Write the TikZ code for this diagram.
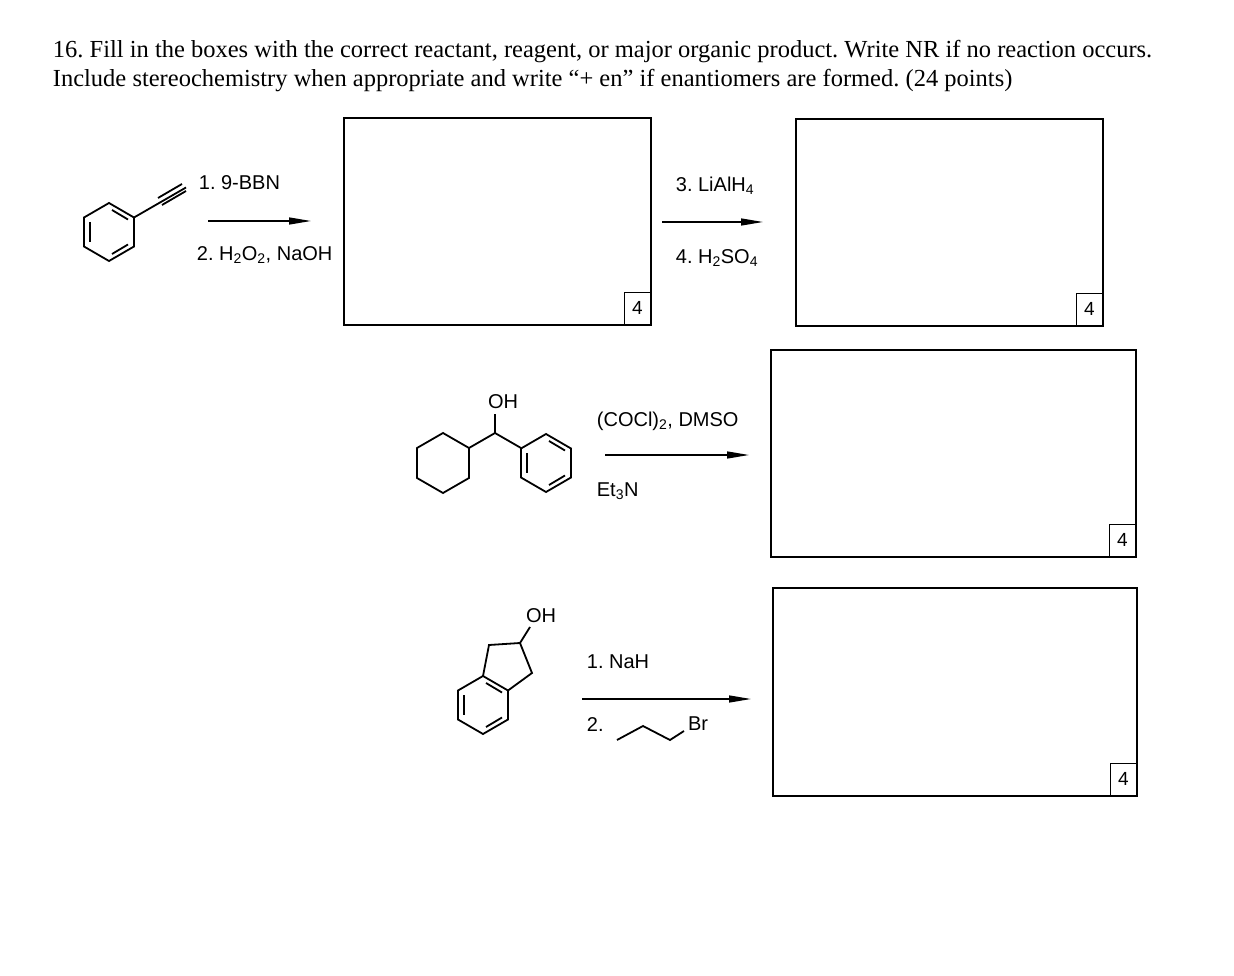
\documentclass[tikz,border=0pt]{standalone}
\usepackage{fontspec}
\setmainfont{Liberation Serif}
\newfontfamily\hel{Liberation Sans}
\usetikzlibrary{arrows.meta}
\frenchspacing
\begin{document}
\begin{tikzpicture}[x=1pt,y=-1pt,line width=1.8pt,
  bx/.style={draw,line width=1.6pt},
  lab/.style={font=\hel\fontsize{20}{22}\selectfont,inner sep=0pt},
  rx/.style={-{Triangle[length=22pt,width=7pt]},line width=1.4pt},
  pts/.style={font=\hel\fontsize{19}{20}\selectfont,draw,line width=1.4pt,minimum width=26pt,minimum height=32pt,inner sep=0pt}]
\useasboundingbox (0,0) rectangle (1234,976);
% title
\node[anchor=west,inner sep=0pt,font=\fontsize{24.5}{29}\selectfont] (t1) at (52,52) {16. Fill in the boxes with the correct reactant, reagent, or major organic product. Write NR if no reaction occurs.};
\node[anchor=west,inner sep=0pt,font=\fontsize{24.5}{29}\selectfont] (t2) at (52,81) {Include stereochemistry when appropriate and write “+ en” if enantiomers are formed. (24 points)};
% benzene helper
\newcommand{\benz}[2]{%
 \draw (#1+0,#2-29) -- (#1+25,#2-14.5) -- (#1+25,#2+14.5) -- (#1+0,#2+29) -- (#1-25,#2+14.5) -- (#1-25,#2-14.5) -- cycle;
 \draw (#1-19,#2-10) -- (#1-19,#2+10);
 \draw (#1+3,#2-22) -- (#1+19,#2-12.5);
 \draw (#1+3,#2+22) -- (#1+19,#2+12.5);}
% molecule 1
\benz{109}{232}
\coordinate (a1) at (134,217.5);
\coordinate (a2) at (186,187.5);
\draw (a1) -- (a2);
\draw (158,198) -- (182,184);
\draw (162,205) -- (186,191);
% arrow 1
\coordinate (r1s) at (208,221); \coordinate (r1e) at (311,221);
\draw[rx] (r1s) -- (r1e);
\node[lab,anchor=west] (l1) at (198,183) {1. 9-BBN};
\node[lab,anchor=west] (l2) at (196,255) {2. H\textsubscript{2}O\textsubscript{2}, NaOH};
% boxes
\draw[bx] (344,118) rectangle (651,325);
\node[pts,anchor=south east] (p1) at (651,325) {4};
\coordinate (r2s) at (662,222); \coordinate (r2e) at (763,222);
\draw[rx] (r2s) -- (r2e);
\node[lab,anchor=west] (l3) at (675,186) {3. LiAlH\textsubscript{4}};
\node[lab,anchor=west] (l4) at (675,258) {4. H\textsubscript{2}SO\textsubscript{4}};
\draw[bx] (796,119) rectangle (1103,326);
\node[pts,anchor=south east] (p2) at (1103,326) {4};
% molecule 2
\draw (443,433) -- (469,448) -- (469,478) -- (443,493) -- (417,478) -- (417,448) -- cycle;
\coordinate (ch) at (495,433);
\draw (469,448) -- (ch) -- (521,448);
\draw (ch) -- (495,414);
\node[lab] (oh1) at (503,402) {OH};
\benz{546}{463}
\coordinate (r3s) at (605,455); \coordinate (r3e) at (749,455);
\draw[rx] (r3s) -- (r3e);
\node[lab,anchor=west] (l5) at (596,421) {(COCl)\textsubscript{2}, DMSO};
\node[lab,anchor=west] (l6) at (596,491) {Et\textsubscript{3}N};
\draw[bx] (771,350) rectangle (1136,557);
\node[pts,anchor=south east] (p3) at (1136,557) {4};
% molecule 3
\benz{483}{705}
\draw (483,676) -- (489,645) -- (520,643) -- (532,673) -- (508,690.5);
\draw (520,643) -- (530,627);
\node[lab] (oh2) at (541,616) {OH};
\coordinate (r4s) at (582,699); \coordinate (r4e) at (751,699);
\draw[rx] (r4s) -- (r4e);
\node[lab,anchor=west] (l7) at (586,662) {1. NaH};
\node[lab,anchor=west] (l8) at (586,725) {2.};
\draw (617,740) -- (643,726) -- (670,740) -- (684,731);
\node[lab] (br) at (698,724) {Br};
\draw[bx] (773,588) rectangle (1137,796);
\node[pts,anchor=south east] (p4) at (1137,796) {4};
\end{tikzpicture}
\end{document}
